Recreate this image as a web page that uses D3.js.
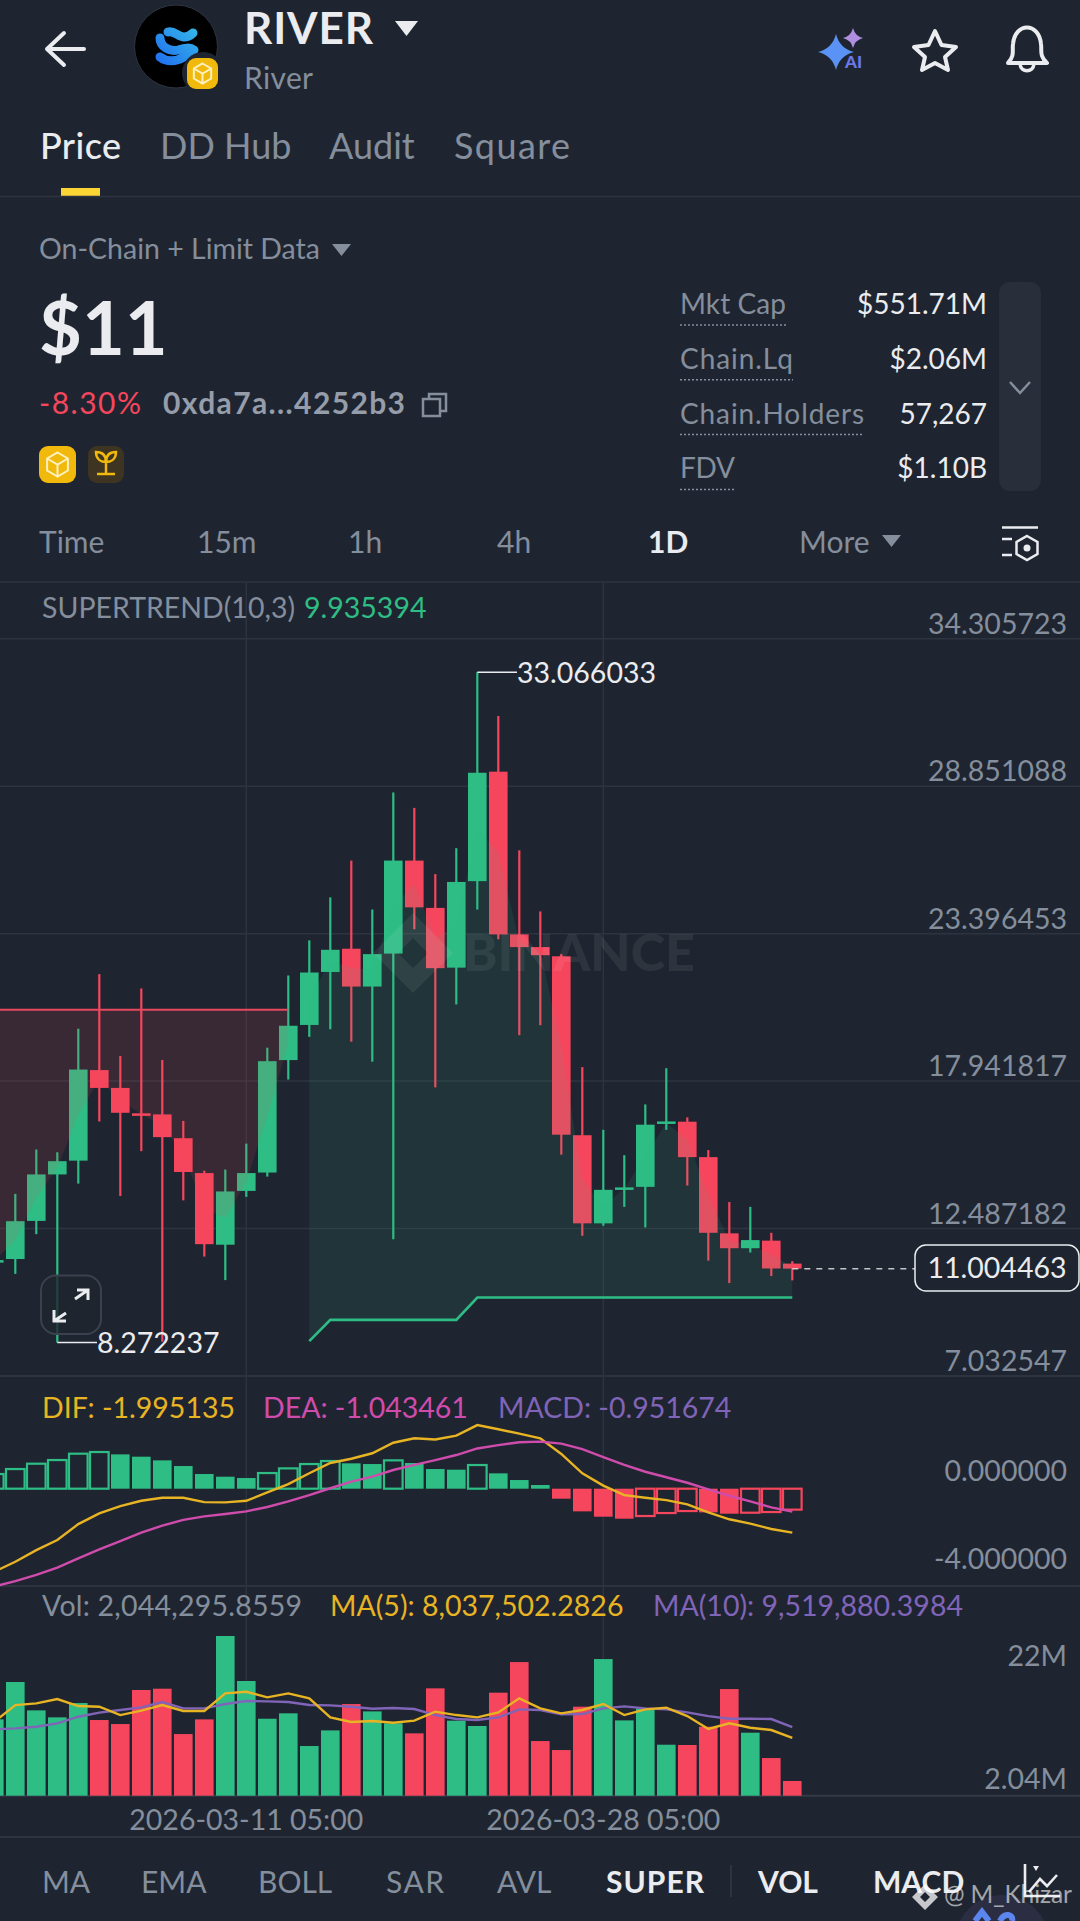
<!DOCTYPE html>
<html>
<head>
<meta charset="utf-8">
<script src="https://cdn.jsdelivr.net/npm/d3@7"></script>
<style>
	html, body { margin: 0; padding: 0; background: #1f2530; }
	svg { display: block; }
	text { font-family: Lato, "Open Sans", sans-serif; }
</style>
</head>
<body>
<svg id="chart" width="1080" height="1921"></svg>
<script>
// Daily candles, index 12 is 2026-03-11 and index 29 is 2026-03-28
const openPrices = [11.23, 11.36, 12.77, 14.49, 15.00, 18.35, 17.69, 16.75, 16.71, 15.83, 14.54, 11.89, 13.88, 14.56, 18.72, 20.02, 21.98, 22.84, 21.44, 22.66, 26.10, 24.35, 22.14, 25.34, 29.39, 23.37, 22.90, 22.56, 15.94, 12.68, 13.93, 14.03, 16.36, 16.44, 15.13, 12.31, 11.76, 12.04, 11.19]
const closePrices = [11.32, 12.76, 14.49, 14.98, 18.37, 17.69, 16.77, 16.68, 15.87, 14.58, 11.91, 13.86, 14.54, 18.68, 19.99, 21.96, 22.80, 21.44, 22.64, 26.10, 24.37, 22.12, 25.31, 29.35, 23.37, 22.90, 22.60, 15.96, 12.68, 13.92, 14.01, 16.33, 16.45, 15.13, 12.33, 11.76, 12.06, 11.01, 11.004463]
const highPrices = [11.50, 13.77, 15.41, 15.31, 19.88, 21.90, 18.87, 21.37, 18.72, 16.47, 14.63, 14.67, 15.63, 19.18, 21.85, 23.15, 24.74, 26.10, 24.29, 28.62, 28.05, 25.60, 26.56, 33.066033, 31.45, 26.48, 24.22, 22.64, 18.46, 16.14, 15.20, 17.08, 18.42, 16.60, 15.39, 13.47, 13.29, 12.33, 11.28]
const lowPrices = [11.00, 10.81, 12.28, 8.272237, 14.15, 16.45, 13.69, 15.35, 8.30, 13.53, 11.45, 10.58, 13.66, 14.41, 18.00, 19.58, 19.86, 19.40, 18.66, 12.09, 23.56, 17.71, 20.78, 24.29, 23.19, 19.64, 20.01, 15.22, 12.22, 12.59, 13.29, 12.53, 16.14, 14.08, 11.30, 10.47, 11.60, 10.73, 10.57]

const superUpper = [20.58, 20.58, 20.58, 20.58, 20.58, 20.58, 20.58, 20.58, 20.58, 20.58, 20.58, 20.58, 20.58, 20.58, 20.58, null, null, null, null, null, null, null, null, null, null, null, null, null, null, null, null, null, null, null, null, null, null, null, null]
const superLower = [null, null, null, null, null, null, null, null, null, null, null, null, null, null, null, 8.32, 9.11, 9.11, 9.11, 9.11, 9.11, 9.11, 9.11, 9.935394, 9.935394, 9.935394, 9.935394, 9.935394, 9.935394, 9.935394, 9.935394, 9.935394, 9.935394, 9.935394, 9.935394, 9.935394, 9.935394, 9.935394, 9.935394]

const macdHist = [0.667, 0.894, 1.136, 1.303, 1.591, 1.667, 1.561, 1.455, 1.288, 1.03, 0.667, 0.545, 0.485, 0.712, 0.924, 1.121, 1.258, 1.152, 1.121, 1.288, 1.167, 0.894, 0.864, 1.076, 0.697, 0.394, 0.167, -0.455, -1.03, -1.273, -1.364, -1.242, -1.106, -1.015, -1.076, -1.136, -1.091, -1.061, -0.951674]
const difLine = [-3.77, -3.32, -2.79, -2.33, -1.61, -1.12, -0.79, -0.55, -0.41, -0.41, -0.61, -0.62, -0.55, -0.17, 0.21, 0.70, 1.17, 1.36, 1.61, 2.09, 2.29, 2.24, 2.41, 2.89, 2.70, 2.50, 2.29, 1.58, 0.70, 0.14, -0.29, -0.41, -0.52, -0.71, -1.08, -1.39, -1.59, -1.83, -1.995135]
const deaLine = [-4.45, -4.20, -3.92, -3.59, -3.17, -2.76, -2.38, -2.00, -1.68, -1.42, -1.26, -1.15, -1.03, -0.83, -0.58, -0.29, 0.02, 0.32, 0.55, 0.85, 1.08, 1.30, 1.53, 1.83, 1.98, 2.11, 2.14, 2.05, 1.80, 1.44, 1.08, 0.77, 0.52, 0.27, -0.03, -0.32, -0.58, -0.85, -1.043461]

// Volume in millions
const volumes = [10.6, 15.79, 11.85, 10.88, 12.87, 10.51, 9.95, 14.68, 14.86, 8.56, 10.60, 22.18, 15.93, 10.69, 11.44, 6.90, 9.07, 12.73, 11.71, 10.05, 8.66, 14.91, 10.42, 9.68, 14.31, 18.56, 7.59, 6.34, 12.36, 18.98, 10.46, 12.13, 7.08, 7.04, 9.58, 14.81, 8.75, 5.23, 2.044]
const volMa5 = [10.28, 12.59, 12.82, 13.43, 12.45, 12.36, 11.20, 11.81, 12.59, 11.76, 11.76, 14.21, 14.44, 13.66, 14.21, 13.52, 10.88, 10.23, 10.37, 10.14, 10.42, 11.67, 11.20, 10.88, 11.57, 13.52, 12.13, 11.44, 11.90, 12.73, 11.20, 11.99, 12.22, 11.06, 9.26, 10.05, 9.44, 9.12, 8.0375]
const volMa10 = [9.21, 9.35, 9.58, 10.05, 10.97, 11.53, 11.90, 12.27, 13.01, 12.13, 12.13, 12.73, 13.15, 13.10, 13.01, 12.59, 12.55, 12.36, 12.08, 12.18, 12.04, 11.20, 10.65, 10.51, 10.88, 11.99, 11.90, 11.30, 11.34, 12.13, 12.41, 12.13, 11.99, 11.57, 11.06, 10.69, 10.69, 10.65, 9.52]

const priceTicks = [34.305723, 28.851088, 23.396453, 17.941817, 12.487182, 7.032547]
const macdTicks = [0, -4]
const macdTickLabels = ['0.000000', '-4.000000']
const volTicks = [22, 2.04]
const volTickLabels = ['22M', '2.04M']
const dateTickIndex = [12, 29]
const dateTickLabels = ['2026-03-11 05:00', '2026-03-28 05:00']

const statNames = ['Mkt Cap', 'Chain.Lq', 'Chain.Holders', 'FDV']
const statValues = ['$551.71M', '$2.06M', '57,267', '$1.10B']
const intervalNames = ['Time', '15m', '1h', '4h', '1D', 'More']
const indicatorNames = ['MA', 'EMA', 'BOLL', 'SAR', 'AVL', 'SUPER', 'VOL', 'MACD']

const UP = '#2ebd85', DOWN = '#f6465d', GREY = '#848e9c', WHITE = '#eaecef', BG = '#1f2530'
const GRID = '#2d3440', YELLOW = '#e8b423', MAGENTA = '#cf4cac', PURPLE = '#8064b8'
const LABEL = 28.5

let svg = d3.select('#chart')
svg.append('rect').attr('width', 1080).attr('height', 1921).attr('fill', BG)

let candles = openPrices.map((o, i) => ({
	i, o, c: closePrices[i], h: highPrices[i], l: lowPrices[i],
	up: closePrices[i] >= o
}))

// One slot per candle, shared by all three panels
let x = d3.scaleLinear().domain([0, 38]).range([-5.7, 792.3])
const barWidth = 18.6

let priceY = d3.scaleLinear().domain([7.032547, 34.305723]).range([1376, 638.8])
let macdY = d3.scaleLinear().domain([-4, 0]).range([1576.7, 1488.7])
let volY = d3.scaleLinear().domain([0, 22]).range([1795.7, 1637.3])

function addText(parent, px, py, str, o = {}) {
	let t = parent.append('text')
		.attr('x', px)
		.attr('y', py)
		.attr('fill', o.fill || WHITE)
		.attr('font-size', o.size || LABEL)
		.attr('font-weight', o.weight || 400)
		.attr('text-anchor', o.anchor || 'start')
		.text(str)
	// the app font runs wider than Lato in places, o.w pins the width
	if (o.w) t.attr('textLength', o.w).attr('lengthAdjust', 'spacing')
	return t
}

function hline(parent, y, x1 = 0, x2 = 1080, color = GRID, w = 1.5) {
	parent.append('line').attr('x1', x1).attr('x2', x2).attr('y1', y).attr('y2', y)
		.attr('stroke', color).attr('stroke-width', w)
}

createHeader()
createStats()
createIntervals()
createGrid()
createCandles()
createMacd()
createVolume()
createBottomBar()

/**
 * Title row, tabs and the price block. Icons are plain paths.
 */
function createHeader() {
	let g = svg.append('g')

	g.append('path').attr('d', 'M84 49H47M64 33L47 49L64 65')
		.attr('fill', 'none').attr('stroke', WHITE).attr('stroke-width', 4).attr('stroke-linecap', 'round').attr('stroke-linejoin', 'round')

	// logo
	let defs = svg.append('defs')
	let grad = defs.append('linearGradient').attr('id', 'wave').attr('gradientUnits', 'userSpaceOnUse')
		.attr('x1', 195).attr('y1', 28).attr('x2', 157).attr('y2', 66)
	grad.append('stop').attr('offset', '0%').attr('stop-color', '#35b6e8')
	grad.append('stop').attr('offset', '100%').attr('stop-color', '#1f6cf0')
	g.append('circle').attr('cx', 176).attr('cy', 46.5).attr('r', 41.5).attr('fill', '#000').attr('stroke', '#2d3440')
	let waves = ['M168 32C174 30 178 37 184 37C188 37 191 35 193 33', 'M160 38C160 47 170 52 178 50C185 48 190 47 194 50', 'M160 57C166 62 176 62 184 57C187 55 190 54 192 53']
	waves.forEach(d => {
		g.append('path').attr('d', d).attr('fill', 'none').attr('stroke', 'url(#wave)').attr('stroke-width', 9).attr('stroke-linecap', 'round')
	})
	g.append('circle').attr('cx', 203).attr('cy', 73).attr('r', 21).attr('fill', BG)
	g.append('rect').attr('x', 187).attr('y', 58).attr('width', 31).attr('height', 31).attr('rx', 9).attr('fill', '#f0b90b')
	cubeGlyph(g, 202.5, 73.5, 10)

	addText(g, 244, 44, 'RIVER', { size: 44, weight: 700, w: 129 })
	g.append('path').attr('d', 'M395 21H418L406.5 36Z').attr('fill', WHITE)
	addText(g, 244, 89, 'River', { size: 30, fill: GREY, w: 69 })

	// top right icons
	let sparkle = (cx, cy, r) => `M${cx - r} ${cy}Q${cx - r * 0.2} ${cy - r * 0.2} ${cx} ${cy - r}Q${cx + r * 0.2} ${cy - r * 0.2} ${cx + r} ${cy}Q${cx + r * 0.2} ${cy + r * 0.2} ${cx} ${cy + r}Q${cx - r * 0.2} ${cy + r * 0.2} ${cx - r} ${cy}Z`
	g.append('path').attr('d', sparkle(836, 52, 18)).attr('fill', '#5a93f5')
	g.append('path').attr('d', sparkle(853, 38, 10)).attr('fill', '#b08fe0')
	addText(g, 845, 68, 'AI', { size: 17, weight: 900, fill: '#6a78e8' })
	g.append('path').attr('fill', 'none').attr('stroke', WHITE).attr('stroke-width', 4).attr('stroke-linejoin', 'round')
		.attr('d', 'M935 31L941.5 45L956 47L945 57L948 70L935 63L922 70L925 57L914 47L928.5 45Z')
	g.append('path').attr('fill', 'none').attr('stroke', WHITE).attr('stroke-width', 4).attr('stroke-linejoin', 'round')
		.attr('d', 'M1008 63C1015 56 1012 50 1013 44C1015 22 1039 22 1041 44C1042 50 1039 56 1047 63Z')
	g.append('path').attr('fill', 'none').attr('stroke', WHITE).attr('stroke-width', 3.5)
		.attr('d', 'M1020 64C1021 73 1033 73 1034 64')

	// tabs
	addText(g, 40, 159, 'Price', { size: 36, weight: 500, w: 81 })
	addText(g, 160, 159, 'DD Hub', { size: 36, fill: GREY })
	addText(g, 329, 159, 'Audit', { size: 36, fill: GREY })
	addText(g, 454, 159, 'Square', { size: 36, fill: GREY, w: 116 })
	g.append('rect').attr('x', 61).attr('y', 188).attr('width', 39).attr('height', 8).attr('fill', '#fcd535')
	hline(g, 196.5)

	addText(g, 39, 259, 'On-Chain + Limit Data', { fill: GREY })
	g.append('path').attr('d', 'M332 244H351L341.5 256Z').attr('fill', GREY)

	addText(g, 39, 355, '$11', { size: 74, weight: 700 })
	addText(g, 39, 414, '-8.30%', { size: 30, fill: DOWN, w: 102 })
	addText(g, 163, 414, '0xda7a...4252b3', { size: 30, fill: '#959daa', weight: 700, w: 242 })
	g.append('path').attr('fill', 'none').attr('stroke', GREY).attr('stroke-width', 2.5)
		.attr('d', 'M429 399V394H446V411H441M423 399H440V416H423Z')

	g.append('rect').attr('x', 39).attr('y', 446).attr('width', 37).attr('height', 37).attr('rx', 9).attr('fill', '#f0b90b')
	cubeGlyph(g, 57.5, 464.5, 12)
	g.append('rect').attr('x', 88).attr('y', 446).attr('width', 36).attr('height', 37).attr('rx', 9).attr('fill', '#3d3522')
	g.append('path').attr('fill', 'none').attr('stroke', '#f0b90b').attr('stroke-width', 2.5)
		.attr('d', 'M106 474V460M96 452C96 460 102 462 106 462C110 462 116 460 116 452C110 452 106 455 106 462C106 455 102 452 96 452ZM97 474H115')
}

function cubeGlyph(g, cx, cy, r) {
	let pts = d3.range(6).map(k => {
		let a = Math.PI / 3 * k - Math.PI / 2
		return [cx + r * Math.cos(a), cy + r * Math.sin(a)]
	})
	g.append('path').attr('d', d3.line()(pts) + 'Z')
		.attr('fill', 'none').attr('stroke', '#fff0c0').attr('stroke-width', 2)
	g.append('path').attr('d', `M${pts[5]}L${cx} ${cy}L${pts[1]}M${cx} ${cy}L${pts[3]}`)
		.attr('fill', 'none').attr('stroke', '#fff0c0').attr('stroke-width', 2)
}

/**
 * Market stats on the right of the price.
 */
function createStats() {
	let g = svg.append('g')
	let underlineEnd = [786, 793, 864, 735]
	statNames.forEach((name, i) => {
		let base = 314 + i * 54.8
		addText(g, 680, base, name, { size: 28, fill: GREY, w: underlineEnd[i] - 680 })
		g.append('line').attr('x1', 680).attr('x2', underlineEnd[i]).attr('y1', base + 11).attr('y2', base + 11)
			.attr('stroke', GREY).attr('stroke-width', 1.5).attr('stroke-dasharray', '2 2')
		addText(g, 987, base, statValues[i], { size: 28, anchor: 'end' })
	})
	g.append('rect').attr('x', 999).attr('y', 282).attr('width', 42).attr('height', 209).attr('rx', 11).attr('fill', '#282e3a')
	g.append('path').attr('d', 'M1010 382L1020 393L1030 382').attr('fill', 'none').attr('stroke', GREY).attr('stroke-width', 2.5)
}

/**
 * Interval selector row.
 */
function createIntervals() {
	let g = svg.append('g')
	let xs = [39, 197, 348, 497, 648, 799]
	intervalNames.forEach((name, i) => {
		let active = name === '1D'
		addText(g, xs[i], 552.5, name, { size: 30, fill: active ? WHITE : GREY, weight: active ? 700 : 400 })
	})
	g.append('path').attr('d', 'M882 535H901L891.5 547Z').attr('fill', GREY)
	g.append('path').attr('fill', 'none').attr('stroke', WHITE).attr('stroke-width', 2.5)
		.attr('d', 'M1002 527.5H1038M1002 539H1012M1002 555H1012M1027 536L1037.5 542V554L1027 560L1016.5 554V542Z')
	g.append('circle').attr('cx', 1027).attr('cy', 548).attr('r', 3.5).attr('fill', WHITE)
	hline(g, 582)
}

function createGrid() {
	let g = svg.append('g')
	priceTicks.forEach((t, i) => hline(g, priceY(t), 0, 1080, i === 5 ? '#333a46' : GRID))
	hline(g, 1586, 0, 1080, '#333a46')
	hline(g, 1795.7, 0, 1080, '#333a46', 2)
	hline(g, 1837, 0, 1080, '#333a46')
	dateTickIndex.forEach(i => {
		g.append('line').attr('x1', x(i)).attr('x2', x(i)).attr('y1', 582).attr('y2', 1796)
			.attr('stroke', GRID).attr('stroke-width', 1.5)
	})
}

/**
 * Candles, supertrend bands, high/low markers and the last price tag.
 */
function createCandles() {
	let g = svg.append('g')

	let c = g.selectAll('g.candle').data(candles).join('g').attr('class', 'candle')
	c.append('line')
		.attr('x1', d => x(d.i)).attr('x2', d => x(d.i))
		.attr('y1', d => priceY(d.h)).attr('y2', d => priceY(d.l))
		.attr('stroke', d => d.up ? UP : DOWN).attr('stroke-width', 2.2)
	c.append('rect')
		.attr('x', d => x(d.i) - barWidth / 2)
		.attr('width', barWidth)
		.attr('y', d => priceY(Math.max(d.o, d.c)))
		.attr('height', d => Math.max(2.5, Math.abs(priceY(d.o) - priceY(d.c))))
		.attr('fill', d => d.up ? UP : DOWN)

	// bands run from the supertrend line to the middle of the candle body
	let band = series => d3.area()
		.defined(d => series[d.i] !== null)
		.x(d => x(d.i))
		.y0(d => priceY((d.o + d.c) / 2))
		.y1(d => priceY(series[d.i]))
	g.append('path').attr('d', band(superUpper)(candles)).attr('fill', DOWN).attr('fill-opacity', 0.12)
	g.append('path').attr('d', band(superLower)(candles)).attr('fill', UP).attr('fill-opacity', 0.1)

	// watermark lies over the candles
	g.append('path').attr('d', 'M413 913L453 953L413 993L373 953ZM413 938L428 953L413 968L398 953Z')
		.attr('fill', 'rgba(255,255,255,0.07)').attr('fill-rule', 'evenodd')
	addText(g, 463, 971, 'BINANCE', { size: 52, weight: 900, fill: 'rgba(255,255,255,0.07)' })
		.attr('textLength', 232).attr('lengthAdjust', 'spacingAndGlyphs')

	let trend = d3.line().defined(d => d !== null).x((d, i) => x(i)).y(d => priceY(d))
	g.append('path').attr('d', trend(superUpper)).attr('fill', 'none').attr('stroke', '#e8485f').attr('stroke-width', 2)
	g.append('path').attr('d', trend(superLower)).attr('fill', 'none').attr('stroke', UP).attr('stroke-width', 2.6)

	// expand button
	g.append('rect').attr('x', 41).attr('y', 1275.5).attr('width', 60).attr('height', 58.5).attr('rx', 15)
		.attr('fill', BG).attr('fill-opacity', 0.8).attr('stroke', '#3b424e').attr('stroke-width', 2)
	g.append('path').attr('fill', 'none').attr('stroke', WHITE).attr('stroke-width', 3)
		.attr('d', 'M54 1321L66 1313M75 1299L88 1290M54 1310V1321H66M77 1290H88V1300')

	// high and low markers
	let hi = candles[23], lo = candles[3]
	g.append('line').attr('x1', x(hi.i)).attr('x2', 517).attr('y1', priceY(hi.h)).attr('y2', priceY(hi.h))
		.attr('stroke', WHITE).attr('stroke-width', 1.5)
	addText(g, 517, priceY(hi.h) + 11, d3.format('.6f')(hi.h))
	g.append('line').attr('x1', x(lo.i)).attr('x2', 97).attr('y1', priceY(lo.l)).attr('y2', priceY(lo.l))
		.attr('stroke', WHITE).attr('stroke-width', 1.5)
	addText(g, 97, priceY(lo.l) + 11, d3.format('.6f')(lo.l))

	// right axis
	priceTicks.forEach(t => {
		addText(g, 1067, priceY(t) - 5, d3.format('.6f')(t), { fill: GREY, anchor: 'end' })
	})
	addText(g, 42, 618, 'SUPERTREND(10,3)', { fill: GREY })
	addText(g, 304, 618, d3.format('.6f')(superLower[38]), { fill: UP })

	// last price
	let last = candles[38]
	g.append('line').attr('x1', x(38)).attr('x2', 915).attr('y1', priceY(last.c)).attr('y2', priceY(last.c))
		.attr('stroke', WHITE).attr('stroke-width', 1.5).attr('stroke-dasharray', '6 6').attr('stroke-opacity', 0.8)
	g.append('rect').attr('x', 915).attr('y', 1245).attr('width', 164).attr('height', 46).attr('rx', 11)
		.attr('fill', BG).attr('stroke', WHITE).attr('stroke-width', 1.5)
	addText(g, 997, 1278, d3.format('.6f')(last.c), { anchor: 'middle' })
}

/**
 * MACD histogram with its DIF and DEA lines. A bar is hollow while it rises.
 */
function createMacd() {
	let g = svg.append('g')
	macdHist.forEach((v, i) => {
		let color = v >= 0 ? UP : DOWN
		let hollow = i === 0 || v > macdHist[i - 1]
		let top = Math.min(macdY(v), macdY(0)), h = Math.abs(macdY(v) - macdY(0))
		if (hollow) {
			g.append('rect').attr('x', x(i) - barWidth / 2).attr('y', top).attr('width', barWidth).attr('height', h)
				.attr('fill', 'none').attr('stroke', color).attr('stroke-width', 2.2)
		} else {
			g.append('rect').attr('x', x(i) - barWidth / 2).attr('y', top).attr('width', barWidth).attr('height', h)
				.attr('fill', color)
		}
	})
	let line = d3.line().x((d, i) => x(i)).y(d => macdY(d))
	g.append('path').attr('d', line(difLine)).attr('fill', 'none').attr('stroke', YELLOW).attr('stroke-width', 2.4)
	g.append('path').attr('d', line(deaLine)).attr('fill', 'none').attr('stroke', MAGENTA).attr('stroke-width', 2.4)

	addText(g, 42, 1417.5, 'DIF: ' + d3.format('.6f')(difLine[38]).replace('−', '-'), { fill: YELLOW })
	addText(g, 263, 1417.5, 'DEA: ' + d3.format('.6f')(deaLine[38]).replace('−', '-'), { fill: MAGENTA })
	addText(g, 498, 1417.5, 'MACD: ' + d3.format('.6f')(macdHist[38]).replace('−', '-'), { fill: PURPLE })

	macdTicks.forEach((t, i) => {
		addText(g, 1067, macdY(t) - 8, macdTickLabels[i], { fill: GREY, anchor: 'end' })
	})
}

/**
 * Volume bars with the two moving averages and the date axis.
 */
function createVolume() {
	let g = svg.append('g')
	g.selectAll('rect').data(volumes).join('rect')
		.attr('x', (d, i) => x(i) - barWidth / 2)
		.attr('width', barWidth)
		.attr('y', d => volY(d))
		.attr('height', d => volY(0) - volY(d))
		.attr('fill', (d, i) => candles[i].up ? UP : DOWN)

	let line = d3.line().x((d, i) => x(i)).y(d => volY(d))
	g.append('path').attr('d', line(volMa10)).attr('fill', 'none').attr('stroke', PURPLE).attr('stroke-width', 2.4)
	g.append('path').attr('d', line(volMa5)).attr('fill', 'none').attr('stroke', YELLOW).attr('stroke-width', 2.4)

	addText(g, 42, 1615.5, 'Vol: 2,044,295.8559', { fill: GREY, w: 260 })
	addText(g, 330, 1615.5, 'MA(5): 8,037,502.2826', { fill: YELLOW })
	addText(g, 653, 1615.5, 'MA(10): 9,519,880.3984', { fill: PURPLE })

	addText(g, 1067, 1666, volTickLabels[0], { fill: GREY, anchor: 'end' })
	addText(g, 1067, 1789, volTickLabels[1], { fill: GREY, anchor: 'end' })

	dateTickIndex.forEach((idx, i) => {
		addText(g, x(idx), 1829.5, dateTickLabels[i], { fill: GREY, anchor: 'middle' })
	})
}

/**
 * Indicator tabs and the screenshot watermark.
 */
function createBottomBar() {
	let g = svg.append('g')
	let xs = [42, 141, 258, 386, 497, 606, 758, 873]
	indicatorNames.forEach((name, i) => {
		let active = i >= 5
		addText(g, xs[i], 1893, name, { size: 30, fill: active ? WHITE : GREY, weight: active ? 700 : 400, w: name === 'SUPER' ? 98 : name === 'SAR' ? 58 : null })
	})
	g.append('line').attr('x1', 731).attr('x2', 731).attr('y1', 1865).attr('y2', 1897).attr('stroke', '#333a46').attr('stroke-width', 1.5)

	g.append('path').attr('fill', 'none').attr('stroke', WHITE).attr('stroke-width', 2.6)
		.attr('d', 'M1025 1864V1896H1060M1029 1892L1040 1879L1047 1886L1057 1875')
	g.append('path').attr('d', 'M1033 1866H1039L1036 1871Z').attr('fill', WHITE)

	g.append('circle').attr('cx', 1002).attr('cy', 1942).attr('r', 47).attr('fill', '#2b2e42')
	g.append('path').attr('fill', 'none').attr('stroke', '#5b86f0').attr('stroke-width', 6)
		.attr('d', 'M975 1921L982 1912L989 1921M1000 1921C1004 1912 1014 1914 1012 1921')

	g.append('path').attr('fill', 'rgba(255,255,255,0.75)').attr('fill-rule', 'evenodd')
		.attr('d', 'M925 1884L938 1897L925 1910L912 1897ZM925 1892L930 1897L925 1902L920 1897Z')
	addText(g, 944, 1903, '@ M_Khizar', { size: 24.5, fill: 'rgba(255,255,255,0.6)', w: 128 })
}
</script>
</body>
</html>
